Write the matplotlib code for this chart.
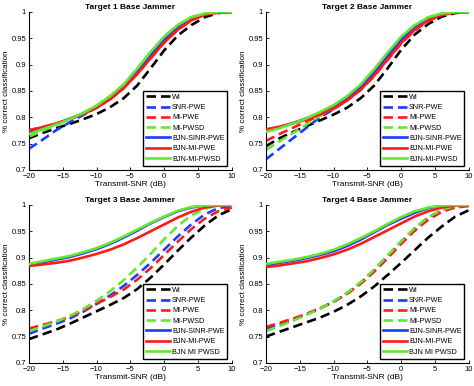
import matplotlib
matplotlib.use("Agg")
import matplotlib.pyplot as plt
from matplotlib.ticker import FuncFormatter

snr = [-20, -18, -16, -14, -12, -10, -8, -6, -4, -2, 0, 2, 4, 6, 8, 10]

names = ["WI", "SNR-PWE", "MI-PWE", "MI-PWSD",
         "BJN-SINR-PWE", "BJN-MI-PWE", "BJN-MI-PWSD"]
legend_last = ["BJN-MI-PWSD", "BJN-MI-PWSD", "BJN MI PWSD", "BJN MI PWSD"]
titles = ["Target 1 Base Jammer", "Target 2 Base Jammer",
          "Target 3 Base Jammer", "Target 4 Base Jammer"]

# target 1
t1_wi = [0.760, 0.770, 0.779, 0.787, 0.796, 0.806, 0.819, 0.836, 0.860, 0.893, 0.927, 0.955, 0.975, 0.990, 0.998, 1.0]
t1_snr = [0.740, 0.757, 0.775, 0.790, 0.804, 0.818, 0.835, 0.857, 0.885, 0.916, 0.946, 0.970, 0.986, 0.996, 1.0, 1.0]
t1_mi = [0.775, 0.781, 0.788, 0.796, 0.806, 0.818, 0.834, 0.855, 0.882, 0.912, 0.942, 0.966, 0.984, 0.995, 0.999, 1.0]
t1_mipsd = [0.763, 0.774, 0.785, 0.796, 0.808, 0.822, 0.840, 0.862, 0.892, 0.924, 0.953, 0.975, 0.990, 0.997, 1.0, 1.0]
t1_bsnr = [0.770, 0.778, 0.787, 0.797, 0.807, 0.820, 0.837, 0.859, 0.887, 0.918, 0.948, 0.971, 0.987, 0.996, 1.0, 1.0]
t1_bmi = [0.775, 0.781, 0.788, 0.796, 0.806, 0.818, 0.834, 0.855, 0.882, 0.912, 0.942, 0.966, 0.984, 0.995, 0.999, 1.0]
t1_bpsd = [0.768, 0.777, 0.786, 0.796, 0.808, 0.822, 0.840, 0.862, 0.892, 0.924, 0.953, 0.975, 0.990, 0.997, 1.0, 1.0]

# target 2
t2_wi = [0.745, 0.760, 0.772, 0.783, 0.794, 0.805, 0.818, 0.836, 0.860, 0.893, 0.928, 0.957, 0.977, 0.991, 0.998, 1.0]
t2_snr = [0.720, 0.740, 0.760, 0.780, 0.800, 0.815, 0.832, 0.854, 0.882, 0.914, 0.944, 0.968, 0.985, 0.995, 1.0, 1.0]
t2_mi = [0.755, 0.768, 0.780, 0.792, 0.803, 0.816, 0.832, 0.852, 0.878, 0.909, 0.940, 0.965, 0.983, 0.994, 0.999, 1.0]
t2_mipsd = [0.738, 0.754, 0.770, 0.786, 0.803, 0.819, 0.837, 0.859, 0.888, 0.920, 0.950, 0.973, 0.988, 0.997, 1.0, 1.0]
t2_bsnr = [0.775, 0.781, 0.789, 0.798, 0.808, 0.820, 0.836, 0.857, 0.885, 0.917, 0.947, 0.971, 0.987, 0.996, 1.0, 1.0]
t2_bmi = [0.777, 0.782, 0.788, 0.796, 0.805, 0.817, 0.832, 0.852, 0.879, 0.910, 0.941, 0.966, 0.984, 0.995, 0.999, 1.0]
t2_bpsd = [0.772, 0.779, 0.788, 0.798, 0.810, 0.823, 0.840, 0.862, 0.891, 0.923, 0.953, 0.975, 0.990, 0.997, 1.0, 1.0]

# target 3
t3_wi = [0.745, 0.754, 0.763, 0.774, 0.786, 0.798, 0.810, 0.823, 0.840, 0.862, 0.887, 0.913, 0.938, 0.961, 0.980, 0.992]
t3_snr = [0.755, 0.765, 0.774, 0.784, 0.797, 0.812, 0.828, 0.846, 0.867, 0.890, 0.915, 0.940, 0.963, 0.982, 0.994, 0.998]
t3_mi = [0.765, 0.772, 0.779, 0.787, 0.799, 0.812, 0.825, 0.839, 0.858, 0.880, 0.905, 0.930, 0.954, 0.974, 0.988, 0.995]
t3_mipsd = [0.760, 0.769, 0.778, 0.789, 0.802, 0.818, 0.836, 0.857, 0.881, 0.907, 0.935, 0.960, 0.980, 0.993, 0.999, 1.0]
t3_bsnr = [0.887, 0.891, 0.896, 0.901, 0.908, 0.916, 0.926, 0.938, 0.951, 0.965, 0.977, 0.988, 0.995, 0.999, 1.0, 1.0]
t3_bmi = [0.884, 0.887, 0.890, 0.894, 0.900, 0.907, 0.915, 0.925, 0.937, 0.950, 0.963, 0.976, 0.987, 0.995, 0.999, 1.0]
t3_bpsd = [0.888, 0.893, 0.898, 0.903, 0.910, 0.918, 0.928, 0.940, 0.953, 0.966, 0.978, 0.989, 0.996, 0.999, 1.0, 1.0]

# target 4
t4_wi = [0.750, 0.759, 0.768, 0.777, 0.786, 0.797, 0.810, 0.826, 0.845, 0.867, 0.890, 0.914, 0.938, 0.959, 0.978, 0.990]
t4_snr = [0.765, 0.773, 0.782, 0.792, 0.803, 0.816, 0.832, 0.852, 0.876, 0.903, 0.930, 0.955, 0.976, 0.990, 0.997, 1.0]
t4_mi = [0.768, 0.776, 0.784, 0.793, 0.804, 0.816, 0.831, 0.850, 0.873, 0.899, 0.926, 0.951, 0.972, 0.987, 0.995, 0.998]
t4_mipsd = [0.760, 0.770, 0.780, 0.791, 0.803, 0.817, 0.833, 0.853, 0.877, 0.904, 0.931, 0.956, 0.977, 0.991, 0.998, 1.0]
t4_bsnr = [0.886, 0.890, 0.894, 0.899, 0.905, 0.912, 0.922, 0.934, 0.948, 0.962, 0.974, 0.985, 0.994, 0.998, 1.0, 1.0]
t4_bmi = [0.882, 0.885, 0.889, 0.893, 0.899, 0.906, 0.915, 0.926, 0.939, 0.952, 0.965, 0.978, 0.988, 0.995, 0.999, 1.0]
t4_bpsd = [0.888, 0.892, 0.896, 0.901, 0.907, 0.915, 0.925, 0.937, 0.950, 0.964, 0.977, 0.988, 0.995, 0.999, 1.0, 1.0]

panels = [
    [t1_wi, t1_snr, t1_mi, t1_mipsd, t1_bsnr, t1_bmi, t1_bpsd],
    [t2_wi, t2_snr, t2_mi, t2_mipsd, t2_bsnr, t2_bmi, t2_bpsd],
    [t3_wi, t3_snr, t3_mi, t3_mipsd, t3_bsnr, t3_bmi, t3_bpsd],
    [t4_wi, t4_snr, t4_mi, t4_mipsd, t4_bsnr, t4_bmi, t4_bpsd],
]

colors = ["black", "#1a3cff", "#ff1a1a", "#66e633", "#1a3cff", "#ff1a1a", "#66e633"]
styles = ["--", "--", "--", "--", "-", "-", "-"]

plt.rcParams["font.family"] = ["Liberation Sans", "DejaVu Sans"]
fig = plt.figure(figsize=(4.74, 3.86), dpi=100)

boxes = [
    [0.061, 0.560, 0.428, 0.409],
    [0.561, 0.560, 0.428, 0.409],
    [0.061, 0.060, 0.428, 0.409],
    [0.561, 0.060, 0.428, 0.409],
]


def fmt_y(v, pos):
    return "{:.2f}".format(v).rstrip("0").rstrip(".")


for i, series in enumerate(panels):
    ax = fig.add_axes(boxes[i])
    handles = []
    for j, ys in enumerate(series):
        if styles[j] == "--":
            h, = ax.plot(snr, ys, color=colors[j], lw=1.9, ls=(0, (3.6, 1.9)), zorder=2)
        else:
            h, = ax.plot(snr, ys, color=colors[j], lw=1.9, ls="-", zorder=3)
        handles.append(h)
    labels = names[:6] + [legend_last[i]]
    ax.legend(handles, labels, loc="lower right", fontsize=5.2, frameon=True,
              fancybox=False, edgecolor="black", framealpha=1,
              handlelength=3.3, handletextpad=0.3, labelspacing=0.45,
              borderpad=0.4, borderaxespad=0.6)
    ax.set_xlim(-20, 10)
    ax.set_ylim(0.7, 1.0)
    ax.set_xticks([-20, -15, -10, -5, 0, 5, 10])
    ax.set_yticks([0.7, 0.75, 0.8, 0.85, 0.9, 0.95, 1.0])
    ax.yaxis.set_major_formatter(FuncFormatter(fmt_y))
    ax.tick_params(direction="in", labelsize=5.5, length=2.5, width=0.6, pad=2)
    ax.spines["top"].set_visible(False)
    ax.spines["right"].set_visible(False)
    ax.set_title(titles[i], fontsize=6, fontweight="bold", pad=2)
    ax.set_xlabel("Transmit-SNR (dB)", fontsize=6, labelpad=1)
    ax.set_ylabel("% correct classification", fontsize=5.8, labelpad=1)

fig.savefig("out.png", dpi=100)
